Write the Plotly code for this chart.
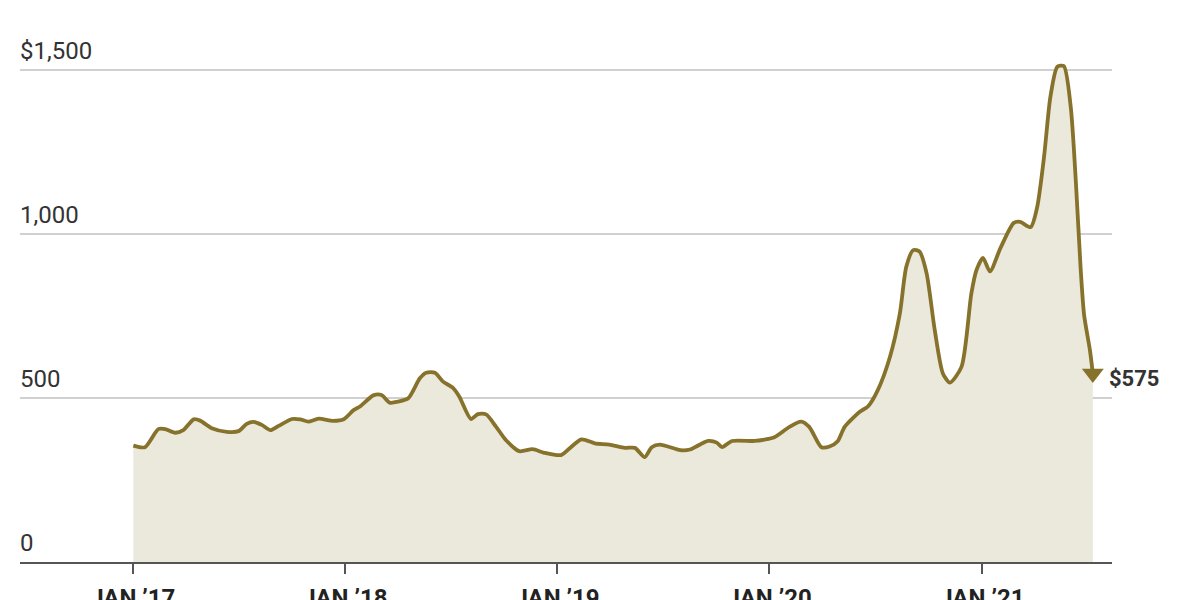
import plotly.graph_objects as go

dates = [
    "2017-01-02", "2017-01-22", "2017-02-14", "2017-02-26", "2017-03-15", "2017-03-29",
    "2017-04-16", "2017-04-27", "2017-05-17", "2017-06-12", "2017-07-02", "2017-07-16",
    "2017-07-28", "2017-08-11", "2017-08-26", "2017-09-09", "2017-10-02", "2017-10-16",
    "2017-10-30", "2017-11-17", "2017-12-12", "2017-12-30",
    "2018-01-16", "2018-01-27", "2018-02-19", "2018-03-05", "2018-03-19", "2018-04-03",
    "2018-04-20", "2018-05-10", "2018-05-21", "2018-06-05", "2018-06-19", "2018-07-06",
    "2018-07-17", "2018-08-06", "2018-08-18", "2018-09-01", "2018-09-18", "2018-10-05",
    "2018-10-28", "2018-11-20", "2018-12-10",
    "2019-01-08", "2019-01-23", "2019-02-12", "2019-03-07", "2019-04-01", "2019-04-28",
    "2019-05-15", "2019-06-01", "2019-06-13", "2019-06-27", "2019-08-01", "2019-08-18",
    "2019-09-18", "2019-10-03", "2019-10-12", "2019-10-29", "2019-12-07", "2019-12-24",
    "2020-01-10", "2020-02-05", "2020-02-25", "2020-03-10", "2020-03-31", "2020-04-14",
    "2020-04-28", "2020-05-10", "2020-06-05", "2020-06-19", "2020-07-06", "2020-07-27",
    "2020-08-13", "2020-08-24", "2020-09-05", "2020-09-16", "2020-09-28", "2020-10-12",
    "2020-10-26", "2020-11-07", "2020-11-27", "2020-12-14", "2020-12-23",
    "2021-01-03", "2021-01-15", "2021-02-02", "2021-02-25", "2021-03-08", "2021-03-26",
    "2021-04-06", "2021-04-18", "2021-04-29", "2021-05-11", "2021-05-22", "2021-06-03",
    "2021-06-12", "2021-06-20", "2021-06-26", "2021-07-06", "2021-07-11",
]
prices = [
    355, 350, 405, 405, 394, 402,
    435, 431, 408, 397, 399, 421,
    427, 418, 402, 415, 436, 435,
    428, 437, 430, 435,
    463, 474, 508, 509, 486, 489,
    499, 560, 577, 577, 550, 531,
    504, 436, 451, 450, 413, 372,
    338, 344, 333,
    326, 347, 374, 362, 358, 348,
    348, 320, 350, 358, 341, 343,
    369, 364, 350, 369, 369, 373,
    380, 412, 428, 412, 350, 352,
    368, 412, 458, 474, 524, 626,
    758, 900, 951, 946, 880, 707,
    575, 547, 595, 819, 891,
    927, 886, 957, 1034, 1037, 1021,
    1080, 1234, 1418, 1510, 1512, 1387,
    1153, 896, 753, 646, 575,
]

x_tick_vals = ["2017-01-01", "2018-01-01", "2019-01-01", "2020-01-01", "2021-01-01"]
x_tick_text = ["JAN ’17", "JAN ’18", "JAN ’19", "JAN ’20", "JAN ’21"]
y_tick_vals = [0, 500, 1000, 1500]
y_tick_text = ["0", "500", "1,000", "$1,500"]

LINE = "#86722b"
FILL = "#ebe8dc"

fig = go.Figure()
fig.add_trace(go.Scatter(
    x=dates, y=prices, mode="lines",
    line=dict(color=LINE, width=3.8, shape="spline", smoothing=0.7),
    fill="tozeroy", fillcolor=FILL, hoverinfo="skip", showlegend=False,
))
fig.add_trace(go.Scatter(
    x=[dates[-1]], y=[prices[-1]], mode="markers",
    marker=dict(symbol="triangle-down", size=19, color=LINE, line=dict(width=0)),
    hoverinfo="skip", showlegend=False,
))
fig.add_annotation(
    x=dates[-1], y=prices[-1], text=f"${prices[-1]}", showarrow=False,
    xanchor="left", yanchor="middle", xshift=14, yshift=-5,
    font=dict(family="Roboto, Arial, sans-serif", size=22, color="#333333", weight="bold"),
)
for v, t in zip(y_tick_vals, y_tick_text):
    fig.add_annotation(
        xref="paper", x=0, y=v, text=t, showarrow=False,
        xanchor="left", yanchor="bottom", yshift=3, xshift=-2,
        font=dict(family="Roboto, Arial, sans-serif", size=24, color="#333333"),
    )

fig.update_layout(
    width=1200, height=600,
    margin=dict(l=12, r=96, t=42, b=46),
    paper_bgcolor="white", plot_bgcolor="white",
    xaxis=dict(
        type="date", range=["2016-06-21", "2021-08-13"],
        tickvals=x_tick_vals, ticktext=x_tick_text,
        showgrid=False, zeroline=False, automargin=False,
        showline=True, linecolor="#555555", linewidth=2,
        ticks="outside", ticklen=10, tickwidth=1.5, tickcolor="#555555",
        ticklabelstandoff=3,
        tickfont=dict(family="Liberation Sans Narrow, Arial Narrow, Roboto, sans-serif",
                      size=24, color="#222222", weight="bold"),
    ),
    yaxis=dict(
        range=[0, 1561], tickvals=y_tick_vals,
        showgrid=True, gridcolor="#d0d0d0", gridwidth=1.5, zeroline=False,
        showticklabels=False, ticks="", automargin=False,
    ),
)

fig.write_html("out.html")
